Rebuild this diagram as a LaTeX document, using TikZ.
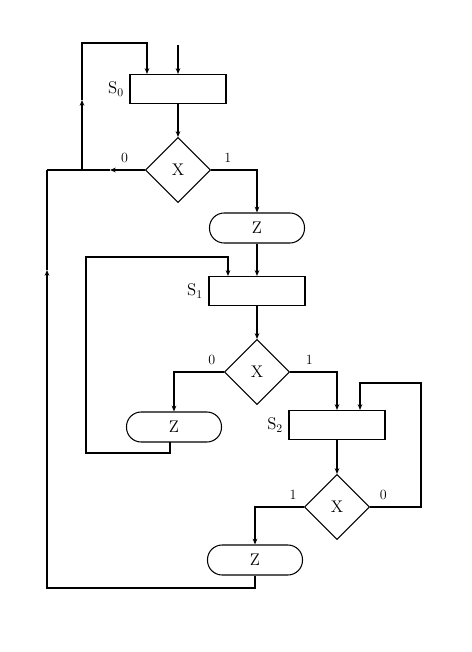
\documentclass[tikz,border=0pt]{standalone}
\usepackage{tikz}
\usetikzlibrary{shapes.geometric,arrows.meta,positioning}

\begin{document}
\begin{tikzpicture}
            [x=0.03cm, y=-0.03cm,
            every node/.style={font=\Large},
            >={Stealth[length=5pt,width=4pt]},
            line width=0.9pt,
            state/.style={rectangle, draw, minimum width=2.88cm, minimum height=0.87cm},
            test/.style={diamond, draw, minimum width=1.95cm, minimum height=1.95cm, inner sep=0pt},
            output/.style={rectangle, draw, rounded corners=0.44cm, minimum width=2.85cm, minimum height=0.9cm},
            branch/.style={font=\large, inner sep=3pt, yshift=3pt}]

            \useasboundingbox (0,0) rectangle (471,652);

            % states, tests and outputs
            \node[state] (s0) at (178,89) {};
            \node[left=1pt of s0] (l0) {S$_0$};
            \node[test] (x0) at (178,170) {X};
            \node[output] (z1) at (257,228) {Z};
            \node[state] (s1) at (257,291) {};
            \node[left=1pt of s1] (l1) {S$_1$};
            \node[test] (x1) at (257,372) {X};
            \node[output] (z2) at (174,427) {Z};
            \node[state] (s2) at (337,425) {};
            \node[left=1pt of s2] (l2) {S$_2$};
            \node[test] (x2) at (337,507) {X};
            \node[output] (z3) at (255,560) {Z};

            % corners of the feedback lines
            \coordinate (top) at (178,45);
            \coordinate (j0) at (82,170);
            \coordinate (m0) at (110,170);
            \coordinate (m2) at (82,100);
            \coordinate (t0) at (147,43);
            \coordinate (c0) at (47,170);
            \coordinate (m1) at (47,270);
            \coordinate (c1) at (47,588);
            \coordinate (c2) at (170,442);
            \coordinate (c3) at (86,453);
            \coordinate (t1) at (228,257);
            \coordinate (c4) at (421,383);
            \coordinate (t2) at (360,383);

            \draw[->] (top) -- (s0.north);
            \draw[->] (s0) -- (x0);
            \draw[->] (x0.east) node[branch, above right, xshift=8pt] {1} -| (z1.north);
            \draw[->] (x0.west) node[branch, above left, xshift=-11pt] {0} -- (m0);
            \draw (m0) -- (c0);
            \draw[->] (j0) -- (m2);
            \draw[->] (m2) |- (t0) -- (t0 |- s0.north);

            \draw[->] (z1) -- (s1);
            \draw[->] (s1) -- (x1);
            \draw[->] (x1.west) node[branch, above left, xshift=-4pt] {0} -| (z2.north);
            \draw[->] (x1.east) node[branch, above right, xshift=10pt] {1} -| (s2.north);
            \draw[->] (c2) |- (c3) |- (t1) -- (t1 |- s1.north);

            \draw[->] (s2) -- (x2);
            \draw[->] (x2.west) node[branch, above left, xshift=-3pt] {1} -| (z3.north);
            \draw[->] (x2.east) node[branch, above right, xshift=5pt] {0} -| (c4) -- (t2) -- (t2 |- s2.north);
            \draw[->] (z3.south) |- (c1) -- (m1);
            \draw (m1) -- (c0);
        \end{tikzpicture}
\end{document}
